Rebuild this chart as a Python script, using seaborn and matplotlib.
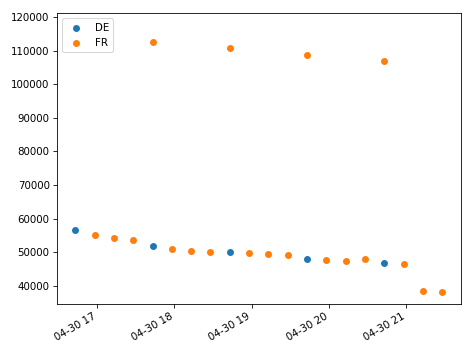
import numpy as np
import pandas as pd
import seaborn as sns
import matplotlib.pyplot as plt


# DE readings (hourly), FR readings (every 15 min)
de_times = ["2021-04-30 16:43", "2021-04-30 17:43", "2021-04-30 18:43",
            "2021-04-30 19:43", "2021-04-30 20:43"]
de_values = [56700, 51900, 50100, 48100, 46800]

fr_times = ["2021-04-30 16:58", "2021-04-30 17:13", "2021-04-30 17:28", "2021-04-30 17:43",
            "2021-04-30 17:58", "2021-04-30 18:13", "2021-04-30 18:28", "2021-04-30 18:43",
            "2021-04-30 18:58", "2021-04-30 19:13", "2021-04-30 19:28", "2021-04-30 19:43",
            "2021-04-30 19:58", "2021-04-30 20:13", "2021-04-30 20:28", "2021-04-30 20:43",
            "2021-04-30 20:58", "2021-04-30 21:13", "2021-04-30 21:28"]
fr_values = [55300, 54400, 53700, 112650,
             51050, 50350, 49950, 110900,
             49900, 49650, 49200, 108700,
             47600, 47400, 47900, 107000,
             46450, 38450, 38250]

de = pd.DataFrame({"time": pd.to_datetime(de_times), "value": de_values})
fr = pd.DataFrame({"time": pd.to_datetime(fr_times), "value": fr_values})

fig, ax = plt.subplots(figsize=(474 / 74, 355 / 74), dpi=74)
sns.scatterplot(data=de, x="time", y="value", color="#1f77b4", s=46, linewidth=0, label="DE", ax=ax)
sns.scatterplot(data=fr, x="time", y="value", color="#ff7f0e", s=46, linewidth=0, label="FR", ax=ax)

ax.set_xlabel("")
ax.set_ylabel("")
ax.set_ylim(34560, 121100)
ax.legend(loc="upper left")
fig.autofmt_xdate()
fig.subplots_adjust(left=0.120, right=0.972, top=0.9625, bottom=0.143)
fig.savefig("out.png", dpi=74)
